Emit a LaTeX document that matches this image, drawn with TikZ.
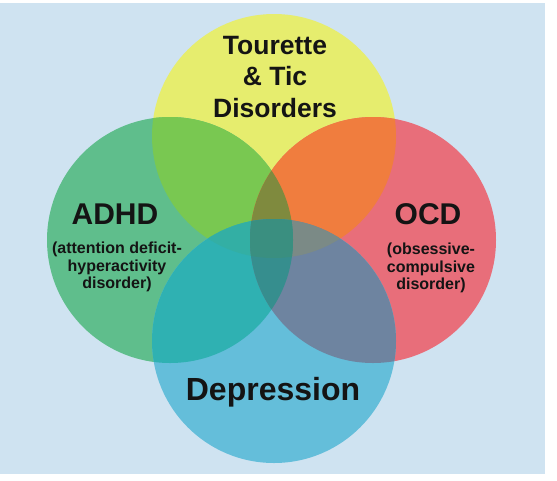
\documentclass[tikz,border=0pt]{standalone}
\usepackage{fontspec}
\setmainfont{Liberation Sans}
\definecolor{bgblue}{HTML}{CFE3F1}
\definecolor{cY}{HTML}{E6ED6E}
\definecolor{cG}{HTML}{5FBE8C}
\definecolor{cR}{HTML}{E86E7A}
\definecolor{cB}{HTML}{64BEDA}
\definecolor{cYG}{HTML}{79C851}
\definecolor{cYR}{HTML}{F07D3E}
\definecolor{cGB}{HTML}{2FB1B2}
\definecolor{cRB}{HTML}{6E84A0}
\definecolor{cYGR}{HTML}{7F8A3E}
\definecolor{cYGB}{HTML}{33AFA4}
\definecolor{cYRB}{HTML}{7B8A86}
\definecolor{cGRB}{HTML}{368E8E}
\definecolor{cYGRB}{HTML}{3A8F80}
\definecolor{ink}{HTML}{141414}
\begin{document}
\begin{tikzpicture}[x=1pt,y=-1pt,
  lbl/.style={inner sep=0pt, outer sep=0pt, align=center, text=ink},
  bigfont/.style={lbl, font=\bfseries\fontsize{30}{34}\selectfont},
  subfont/.style={lbl, font=\bfseries\fontsize{16}{17.5}\selectfont}]
\useasboundingbox (0,0) rectangle (557,480);
\fill[white] (0,0) rectangle (557,480);
\fill[bgblue] (0,3) rectangle (545,474);
\def\circY{(274,136) circle[radius=122pt]}
\def\circG{(170,240) circle[radius=123pt]}
\def\circR{(373,240) circle[radius=123pt]}
\def\circB{(274,341) circle[radius=122pt]}
% single sets
\fill[cY] \circY;
\fill[cG] \circG;
\fill[cR] \circR;
\fill[cB] \circB;
% pairs
\begin{scope}\clip \circY; \fill[cYG] \circG; \fill[cYR] \circR; \end{scope}
\begin{scope}\clip \circB; \fill[cGB] \circG; \fill[cRB] \circR; \end{scope}
% triples
\begin{scope}\clip \circY; \clip \circG; \fill[cYGR] \circR; \end{scope}
\begin{scope}\clip \circY; \clip \circG; \fill[cYGB] \circB; \end{scope}
\begin{scope}\clip \circY; \clip \circR; \fill[cYRB] \circB; \end{scope}
\begin{scope}\clip \circG; \clip \circR; \fill[cGRB] \circB; \end{scope}
% all four
\begin{scope}\clip \circY; \clip \circG; \clip \circR; \fill[cYGRB] \circB; \end{scope}
% labels
\node[lbl, font=\bfseries\fontsize{26.5}{31.5}\selectfont, anchor=north] (tourette) at (275,36) {Tourette\\\& Tic\\Disorders};
\node[bigfont, anchor=base] (adhd) at (115,224) {ADHD};
\node[subfont, anchor=north] (adhdsub) at (117,242) {(attention deficit-\\hyperactivity\\disorder)};
\node[bigfont, anchor=base] (ocd) at (428,224) {OCD};
\node[subfont, anchor=north] (ocdsub) at (431,243) {(obsessive-\\compulsive\\disorder)};
\node[lbl, font=\bfseries\fontsize{32}{36}\selectfont, anchor=base] (depression) at (273,400) {Depression};
\end{tikzpicture}
\end{document}
